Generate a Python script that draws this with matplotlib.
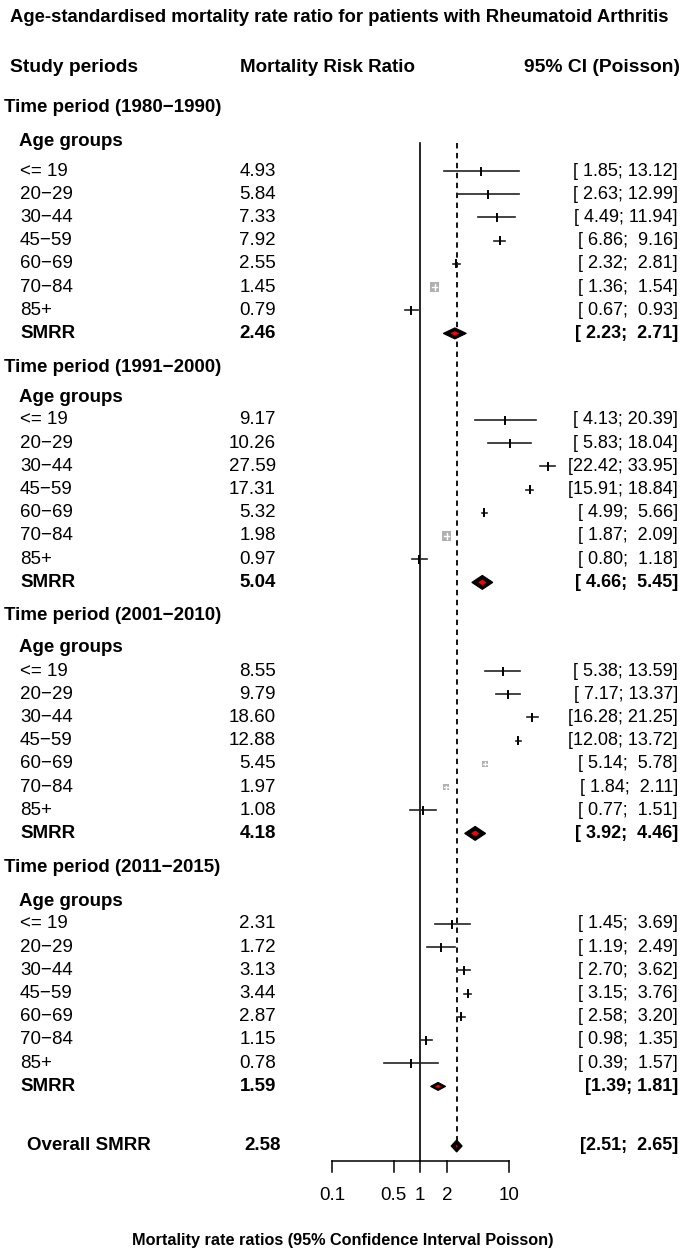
import numpy as np
import matplotlib
matplotlib.use('Agg')
import matplotlib.pyplot as plt
from matplotlib import transforms
from matplotlib.patches import Polygon, Rectangle

plt.rcParams['font.family'] = ['Liberation Sans', 'DejaVu Sans']

# ---- data ----
periods = ['Time period (1980\u22121990)', 'Time period (1991\u22122000)',
           'Time period (2001\u22122010)', 'Time period (2011\u22122015)']
age_groups = ['<= 19', '20\u221229', '30\u221244', '45\u221259', '60\u221269', '70\u221284', '85+']

mrr_p1 = [4.93, 5.84, 7.33, 7.92, 2.55, 1.45, 0.79]
lo_p1 = [1.85, 2.63, 4.49, 6.86, 2.32, 1.36, 0.67]
hi_p1 = [13.12, 12.99, 11.94, 9.16, 2.81, 1.54, 0.93]

mrr_p2 = [9.17, 10.26, 27.59, 17.31, 5.32, 1.98, 0.97]
lo_p2 = [4.13, 5.83, 22.42, 15.91, 4.99, 1.87, 0.80]
hi_p2 = [20.39, 18.04, 33.95, 18.84, 5.66, 2.09, 1.18]

mrr_p3 = [8.55, 9.79, 18.60, 12.88, 5.45, 1.97, 1.08]
lo_p3 = [5.38, 7.17, 16.28, 12.08, 5.14, 1.84, 0.77]
hi_p3 = [13.59, 13.37, 21.25, 13.72, 5.78, 2.11, 1.51]

mrr_p4 = [2.31, 1.72, 3.13, 3.44, 2.87, 1.15, 0.78]
lo_p4 = [1.45, 1.19, 2.70, 3.15, 2.58, 0.98, 0.39]
hi_p4 = [3.69, 2.49, 3.62, 3.76, 3.20, 1.35, 1.57]

smrr = [2.46, 5.04, 4.18, 1.59]
smrr_lo = [2.23, 4.66, 3.92, 1.39]
smrr_hi = [2.71, 5.45, 4.46, 1.81]

overall = 2.58
overall_lo = 2.51
overall_hi = 2.65

xticks = [0.1, 0.5, 1, 2, 10]

mrr = [mrr_p1, mrr_p2, mrr_p3, mrr_p4]
lo = [lo_p1, lo_p2, lo_p3, lo_p4]
hi = [hi_p1, hi_p2, hi_p3, hi_p4]

# ---- layout (pixels from top) ----
W, H = 685, 1253
header_y = [107, 367, 615, 867]
agegrp_y = [142, 398, 647, 901]
first_y = [171, 420, 671, 924]
step = 23.2
overall_y = 1146
axis_y = 1161
# grey boxes for the heavily weighted strata (period, row): half size in px
boxes = {(0, 5): 4.7, (1, 5): 4.7, (2, 4): 3, (2, 5): 3}
# diamond half width / half height in px, share of red core
dia_hw = [11.5, 10.5, 10.5, 7.5]
dia_hh = [5.5, 7, 7, 4]

fig = plt.figure(figsize=(6.85, 12.53), dpi=100)
ax = fig.add_axes([0, 0, 1, 1])
ax.set_xscale('log')
ax.set_xlim(10 ** -4.76, 10 ** (-4.76 + 685 / 88.3))
ax.set_ylim(H, 0)
ax.axis('off')
tr = transforms.blended_transform_factory(ax.transAxes, ax.transData)


def fx(p):
    return p / W


def xpx(v, d):
    # shift a log-x value by d pixels
    return v * 10 ** (d / 88.3)


def diamond(m, y, hw, hh, core=0.4):
    ax.add_patch(Polygon([(xpx(m, -hw), y), (m, y - hh), (xpx(m, hw), y), (m, y + hh)],
                         closed=True, facecolor='black', edgecolor='black', lw=0.8, zorder=5))
    ax.add_patch(Polygon([(xpx(m, -hw * core), y), (m, y - hh * core), (xpx(m, hw * core), y),
                          (m, y + hh * core)], closed=True, facecolor='red', edgecolor='none', zorder=6))


fs = 13.5
ax.text(fx(10), 18, 'Age-standardised mortality rate ratio for patients with Rheumatoid Arthritis',
        transform=tr, fontsize=13.3, fontweight='bold', va='center')
ax.text(fx(10), 68, 'Study periods', transform=tr, fontsize=13.9, fontweight='bold', va='center')
ax.text(fx(240), 68, 'Mortality Risk Ratio', transform=tr, fontsize=fs, fontweight='bold', va='center')
ax.text(fx(680), 68, '95% CI (Poisson)', transform=tr, fontsize=13.9, fontweight='bold', va='center', ha='right')

# reference lines
ax.plot([1, 1], [143, axis_y], color='black', lw=1.2)
ax.plot([overall, overall], [143, overall_y], color='black', lw=1.3, dashes=(3, 2.5))

for p in range(4):
    ax.text(fx(4), header_y[p], periods[p], transform=tr, fontsize=fs, fontweight='bold', va='center')
    ax.text(fx(19), agegrp_y[p], 'Age groups', transform=tr, fontsize=fs, fontweight='bold', va='center')
    for i, g in enumerate(age_groups):
        y = first_y[p] + i * step
        ax.text(fx(20), y, g, transform=tr, fontsize=fs, va='center')
        ax.text(fx(276), y, '%.2f' % mrr[p][i], transform=tr, fontsize=fs, va='center', ha='right')
        ax.text(fx(678), y, '[%5.2f; %5.2f]' % (lo[p][i], hi[p][i]), transform=tr,
                fontsize=13, va='center', ha='right')
        m = mrr[p][i]
        if (p, i) in boxes:
            s = boxes[(p, i)]
            ax.add_patch(Rectangle((xpx(m, -s), y - s), xpx(m, s) - xpx(m, -s), 2 * s,
                                   facecolor='#b0b0b0', edgecolor='none', zorder=3))
            ax.plot([lo[p][i], hi[p][i]], [y, y], color='white', lw=1, zorder=4)
            ax.plot([m, m], [y - s + 1.5, y + s - 1.5], color='white', lw=1, zorder=4)
        else:
            ax.plot([lo[p][i], hi[p][i]], [y, y], color='#222222', lw=1.2, zorder=3)
            ax.plot([m, m], [y - 3.5, y + 3.5], color='black', lw=1.4, zorder=4)
    y = first_y[p] + 7 * step
    ax.text(fx(20), y, 'SMRR', transform=tr, fontsize=fs, fontweight='bold', va='center')
    ax.text(fx(276), y, '%.2f' % smrr[p], transform=tr, fontsize=fs, fontweight='bold', va='center', ha='right')
    ci = '[%5.2f; %5.2f]' % (smrr_lo[p], smrr_hi[p]) if p < 3 else '[%.2f; %.2f]' % (smrr_lo[p], smrr_hi[p])
    ax.text(fx(678), y, ci, transform=tr, fontsize=13, fontweight='bold', va='center', ha='right')
    diamond(smrr[p], y, dia_hw[p], dia_hh[p])

ax.text(fx(27), overall_y, 'Overall SMRR', transform=tr, fontsize=fs, fontweight='bold', va='center')
ax.text(fx(281), overall_y, '%.2f' % overall, transform=tr, fontsize=fs, fontweight='bold', va='center', ha='right')
ax.text(fx(678), overall_y, '[%.2f;  %.2f]' % (overall_lo, overall_hi), transform=tr,
        fontsize=13, fontweight='bold', va='center', ha='right')
diamond(overall, overall_y, 5.5, 6, core=0.2)

# x axis
ax.plot([xticks[0], xticks[-1]], [axis_y, axis_y], color='black', lw=1.1)
for t in xticks:
    ax.plot([t, t], [axis_y, axis_y + 11], color='black', lw=1.1)
    ax.text(t, 1195, '%g' % t, fontsize=fs, ha='center', va='center')

ax.text(fx(343), 1240, 'Mortality rate ratios (95% Confidence Interval Poisson)', transform=tr,
        fontsize=11.7, fontweight='bold', ha='center', va='center')

fig.savefig('out.png', dpi=100)
